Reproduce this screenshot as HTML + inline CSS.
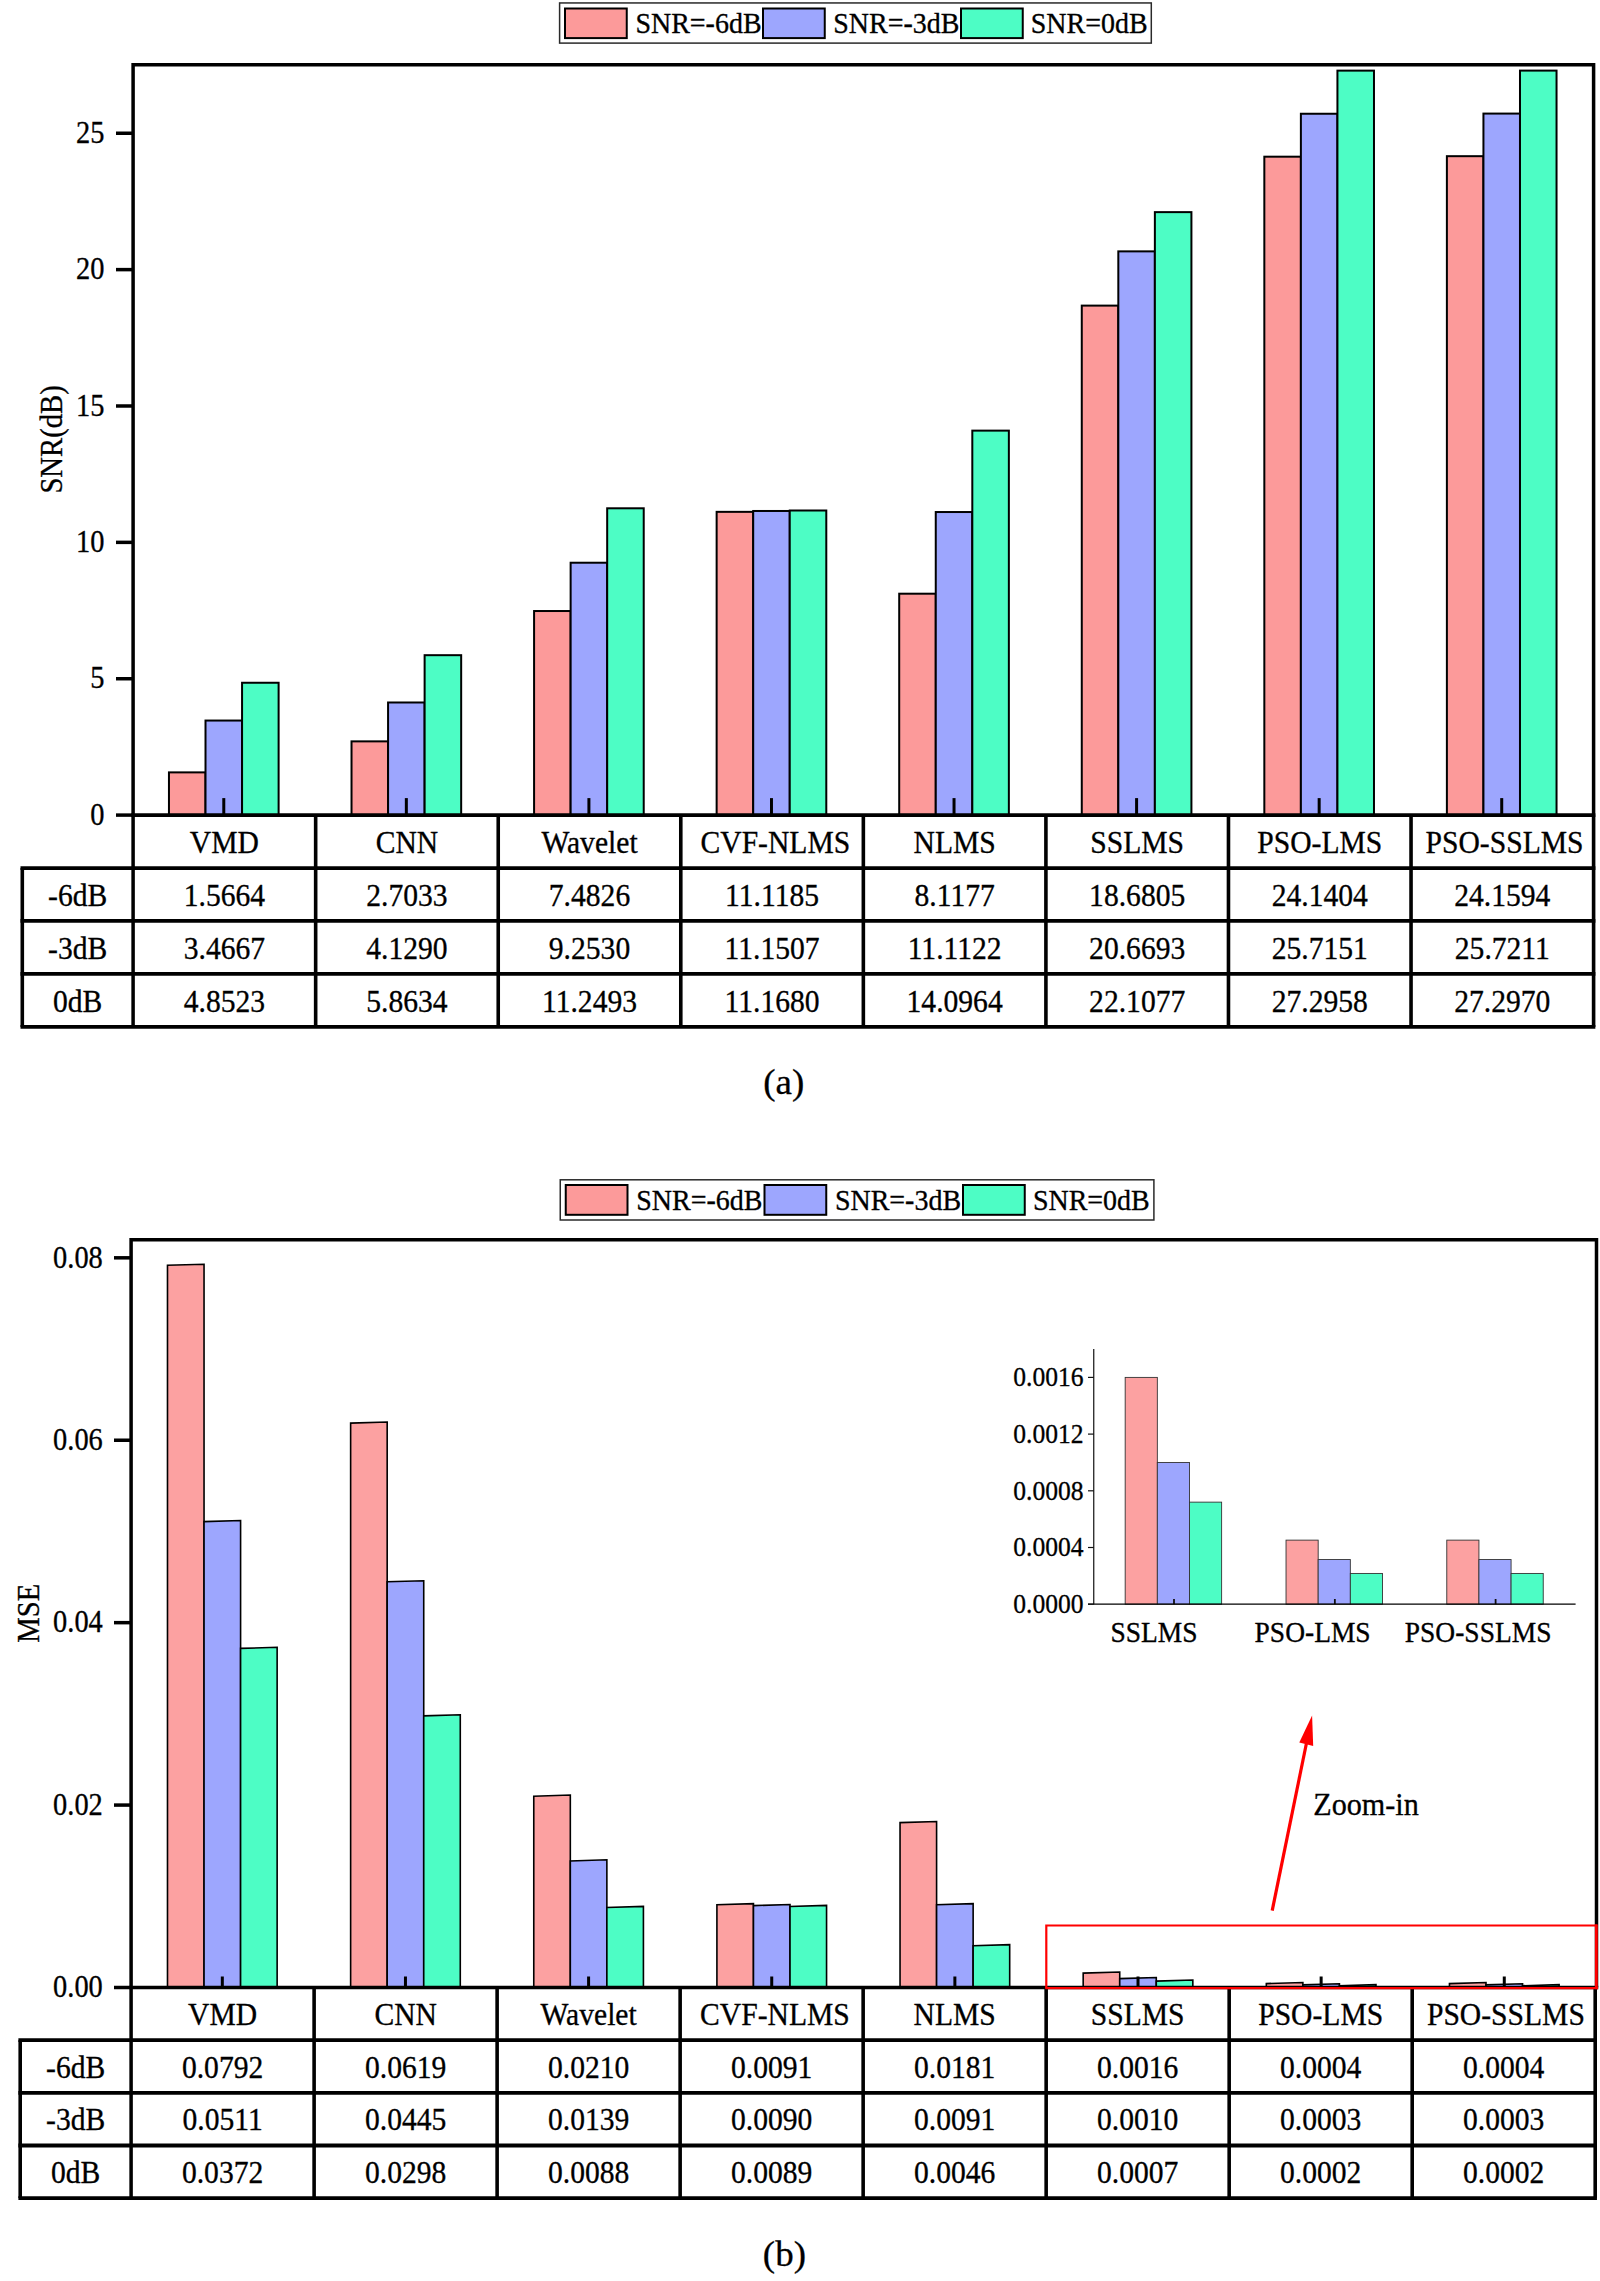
<!DOCTYPE html>
<html lang="en"><head><meta charset="utf-8"><title>SNR and MSE comparison</title>
<style>html,body{margin:0;padding:0;background:#fff}svg{display:block}text{font-family:'Liberation Serif', 'Times New Roman', serif;fill:#000;stroke:#000;stroke-width:0.3px}</style>
</head><body>
<svg width="1600" height="2281" viewBox="0 0 1600 2281">
<rect width="1600" height="2281" fill="#fff"/>
<g id="chart-a">
<rect x="559.6" y="2.95" width="591.7" height="40.15" fill="#fff" stroke="#2a2a2a" stroke-width="1.5"/>
<rect x="565" y="8.5" width="61.75" height="29.6" fill="#FC9A9A" stroke="#000" stroke-width="2"/>
<rect x="763" y="8.5" width="61.75" height="29.6" fill="#9DA6FE" stroke="#000" stroke-width="2"/>
<rect x="961" y="8.5" width="61.75" height="29.6" fill="#4DFDC5" stroke="#000" stroke-width="2"/>
<text transform="translate(635.4 33.09) scale(1 1.075)" font-size="28.0" text-anchor="start">SNR=-6dB</text>
<text transform="translate(833.2 33.09) scale(1 1.075)" font-size="28.0" text-anchor="start">SNR=-3dB</text>
<text transform="translate(1030.8 33.09) scale(1 1.075)" font-size="28.0" text-anchor="start">SNR=0dB</text>
<rect x="168.96" y="772.38" width="36.55" height="42.72" fill="#FC9A9A" stroke="#000" stroke-width="2.0"/>
<rect x="205.51" y="720.55" width="36.55" height="94.55" fill="#9DA6FE" stroke="#000" stroke-width="2.0"/>
<rect x="242.06" y="682.76" width="36.55" height="132.34" fill="#4DFDC5" stroke="#000" stroke-width="2.0"/>
<rect x="351.52" y="741.37" width="36.55" height="73.73" fill="#FC9A9A" stroke="#000" stroke-width="2.0"/>
<rect x="388.07" y="702.49" width="36.55" height="112.61" fill="#9DA6FE" stroke="#000" stroke-width="2.0"/>
<rect x="424.62" y="655.18" width="36.55" height="159.92" fill="#4DFDC5" stroke="#000" stroke-width="2.0"/>
<rect x="534.08" y="611.02" width="36.55" height="204.08" fill="#FC9A9A" stroke="#000" stroke-width="2.0"/>
<rect x="570.63" y="562.73" width="36.55" height="252.37" fill="#9DA6FE" stroke="#000" stroke-width="2.0"/>
<rect x="607.18" y="508.29" width="36.55" height="306.81" fill="#4DFDC5" stroke="#000" stroke-width="2.0"/>
<rect x="716.64" y="511.85" width="36.55" height="303.25" fill="#FC9A9A" stroke="#000" stroke-width="2.0"/>
<rect x="753.19" y="510.98" width="36.55" height="304.12" fill="#9DA6FE" stroke="#000" stroke-width="2.0"/>
<rect x="789.74" y="510.5" width="36.55" height="304.6" fill="#4DFDC5" stroke="#000" stroke-width="2.0"/>
<rect x="899.21" y="593.7" width="36.55" height="221.4" fill="#FC9A9A" stroke="#000" stroke-width="2.0"/>
<rect x="935.76" y="512.03" width="36.55" height="303.07" fill="#9DA6FE" stroke="#000" stroke-width="2.0"/>
<rect x="972.31" y="430.63" width="36.55" height="384.47" fill="#4DFDC5" stroke="#000" stroke-width="2.0"/>
<rect x="1081.77" y="305.61" width="36.55" height="509.49" fill="#FC9A9A" stroke="#000" stroke-width="2.0"/>
<rect x="1118.32" y="251.37" width="36.55" height="563.73" fill="#9DA6FE" stroke="#000" stroke-width="2.0"/>
<rect x="1154.87" y="212.13" width="36.55" height="602.97" fill="#4DFDC5" stroke="#000" stroke-width="2.0"/>
<rect x="1264.33" y="156.69" width="36.55" height="658.41" fill="#FC9A9A" stroke="#000" stroke-width="2.0"/>
<rect x="1300.88" y="113.75" width="36.55" height="701.35" fill="#9DA6FE" stroke="#000" stroke-width="2.0"/>
<rect x="1337.43" y="70.63" width="36.55" height="744.47" fill="#4DFDC5" stroke="#000" stroke-width="2.0"/>
<rect x="1446.89" y="156.18" width="36.55" height="658.92" fill="#FC9A9A" stroke="#000" stroke-width="2.0"/>
<rect x="1483.44" y="113.58" width="36.55" height="701.52" fill="#9DA6FE" stroke="#000" stroke-width="2.0"/>
<rect x="1519.99" y="70.6" width="36.55" height="744.5" fill="#4DFDC5" stroke="#000" stroke-width="2.0"/>
<line x1="223.78" y1="798.1" x2="223.78" y2="815.1" stroke="#000" stroke-width="3"/>
<line x1="406.34" y1="798.1" x2="406.34" y2="815.1" stroke="#000" stroke-width="3"/>
<line x1="588.91" y1="798.1" x2="588.91" y2="815.1" stroke="#000" stroke-width="3"/>
<line x1="771.47" y1="798.1" x2="771.47" y2="815.1" stroke="#000" stroke-width="3"/>
<line x1="954.03" y1="798.1" x2="954.03" y2="815.1" stroke="#000" stroke-width="3"/>
<line x1="1136.59" y1="798.1" x2="1136.59" y2="815.1" stroke="#000" stroke-width="3"/>
<line x1="1319.16" y1="798.1" x2="1319.16" y2="815.1" stroke="#000" stroke-width="3"/>
<line x1="1501.72" y1="798.1" x2="1501.72" y2="815.1" stroke="#000" stroke-width="3"/>
<path d="M133.1 1026.9 V64.8 H1593.6 V815.1" fill="none" stroke="#000" stroke-width="3.5" stroke-linejoin="miter"/>
<line x1="1593.6" y1="815.1" x2="1593.6" y2="1026.9" stroke="#000" stroke-width="3.6"/>
<line x1="131.35" y1="815.1" x2="1595.35" y2="815.1" stroke="#000" stroke-width="3.6"/>
<line x1="20.5" y1="868.1" x2="1595.35" y2="868.1" stroke="#000" stroke-width="3.8"/>
<line x1="20.5" y1="920.8" x2="1595.35" y2="920.8" stroke="#000" stroke-width="3.8"/>
<line x1="20.5" y1="973.8" x2="1595.35" y2="973.8" stroke="#000" stroke-width="3.8"/>
<line x1="20.5" y1="1026.9" x2="1595.35" y2="1026.9" stroke="#000" stroke-width="3.8"/>
<line x1="22.3" y1="868.1" x2="22.3" y2="1026.9" stroke="#000" stroke-width="3.6"/>
<line x1="315.66" y1="815.1" x2="315.66" y2="1026.9" stroke="#000" stroke-width="3.6"/>
<line x1="498.23" y1="815.1" x2="498.23" y2="1026.9" stroke="#000" stroke-width="3.6"/>
<line x1="680.79" y1="815.1" x2="680.79" y2="1026.9" stroke="#000" stroke-width="3.6"/>
<line x1="863.35" y1="815.1" x2="863.35" y2="1026.9" stroke="#000" stroke-width="3.6"/>
<line x1="1045.91" y1="815.1" x2="1045.91" y2="1026.9" stroke="#000" stroke-width="3.6"/>
<line x1="1228.47" y1="815.1" x2="1228.47" y2="1026.9" stroke="#000" stroke-width="3.6"/>
<line x1="1411.04" y1="815.1" x2="1411.04" y2="1026.9" stroke="#000" stroke-width="3.6"/>
<line x1="116" y1="815.1" x2="133.1" y2="815.1" stroke="#000" stroke-width="3.5"/>
<text transform="translate(104.4 824.8) scale(1 1.075)" font-size="28.4" text-anchor="end">0</text>
<line x1="116" y1="678.73" x2="133.1" y2="678.73" stroke="#000" stroke-width="3.5"/>
<text transform="translate(104.4 688.43) scale(1 1.075)" font-size="28.4" text-anchor="end">5</text>
<line x1="116" y1="542.36" x2="133.1" y2="542.36" stroke="#000" stroke-width="3.5"/>
<text transform="translate(104.4 552.06) scale(1 1.075)" font-size="28.4" text-anchor="end">10</text>
<line x1="116" y1="405.99" x2="133.1" y2="405.99" stroke="#000" stroke-width="3.5"/>
<text transform="translate(104.4 415.69) scale(1 1.075)" font-size="28.4" text-anchor="end">15</text>
<line x1="116" y1="269.62" x2="133.1" y2="269.62" stroke="#000" stroke-width="3.5"/>
<text transform="translate(104.4 279.32) scale(1 1.075)" font-size="28.4" text-anchor="end">20</text>
<line x1="116" y1="133.25" x2="133.1" y2="133.25" stroke="#000" stroke-width="3.5"/>
<text transform="translate(104.4 142.95) scale(1 1.075)" font-size="28.4" text-anchor="end">25</text>
<text transform="translate(224.38 852.53) scale(1 1.075)" font-size="29.6" text-anchor="middle">VMD</text>
<text transform="translate(224.38 905.98) scale(1 1.075)" font-size="29.6" text-anchor="middle">1.5664</text>
<text transform="translate(224.38 958.83) scale(1 1.075)" font-size="29.6" text-anchor="middle">3.4667</text>
<text transform="translate(224.38 1011.88) scale(1 1.075)" font-size="29.6" text-anchor="middle">4.8523</text>
<text transform="translate(406.94 852.53) scale(1 1.075)" font-size="29.6" text-anchor="middle">CNN</text>
<text transform="translate(406.94 905.98) scale(1 1.075)" font-size="29.6" text-anchor="middle">2.7033</text>
<text transform="translate(406.94 958.83) scale(1 1.075)" font-size="29.6" text-anchor="middle">4.1290</text>
<text transform="translate(406.94 1011.88) scale(1 1.075)" font-size="29.6" text-anchor="middle">5.8634</text>
<text transform="translate(589.51 852.53) scale(1 1.075)" font-size="29.6" text-anchor="middle">Wavelet</text>
<text transform="translate(589.51 905.98) scale(1 1.075)" font-size="29.6" text-anchor="middle">7.4826</text>
<text transform="translate(589.51 958.83) scale(1 1.075)" font-size="29.6" text-anchor="middle">9.2530</text>
<text transform="translate(589.51 1011.88) scale(1 1.075)" font-size="29.6" text-anchor="middle">11.2493</text>
<text transform="translate(775.37 852.53) scale(1 1.075)" font-size="29.6" text-anchor="middle">CVF-NLMS</text>
<text transform="translate(772.07 905.98) scale(1 1.075)" font-size="29.6" text-anchor="middle">11.1185</text>
<text transform="translate(772.07 958.83) scale(1 1.075)" font-size="29.6" text-anchor="middle">11.1507</text>
<text transform="translate(772.07 1011.88) scale(1 1.075)" font-size="29.6" text-anchor="middle">11.1680</text>
<text transform="translate(954.63 852.53) scale(1 1.075)" font-size="29.6" text-anchor="middle">NLMS</text>
<text transform="translate(954.63 905.98) scale(1 1.075)" font-size="29.6" text-anchor="middle">8.1177</text>
<text transform="translate(954.63 958.83) scale(1 1.075)" font-size="29.6" text-anchor="middle">11.1122</text>
<text transform="translate(954.63 1011.88) scale(1 1.075)" font-size="29.6" text-anchor="middle">14.0964</text>
<text transform="translate(1137.19 852.53) scale(1 1.075)" font-size="29.6" text-anchor="middle">SSLMS</text>
<text transform="translate(1137.19 905.98) scale(1 1.075)" font-size="29.6" text-anchor="middle">18.6805</text>
<text transform="translate(1137.19 958.83) scale(1 1.075)" font-size="29.6" text-anchor="middle">20.6693</text>
<text transform="translate(1137.19 1011.88) scale(1 1.075)" font-size="29.6" text-anchor="middle">22.1077</text>
<text transform="translate(1319.76 852.53) scale(1 1.075)" font-size="29.6" text-anchor="middle">PSO-LMS</text>
<text transform="translate(1319.76 905.98) scale(1 1.075)" font-size="29.6" text-anchor="middle">24.1404</text>
<text transform="translate(1319.76 958.83) scale(1 1.075)" font-size="29.6" text-anchor="middle">25.7151</text>
<text transform="translate(1319.76 1011.88) scale(1 1.075)" font-size="29.6" text-anchor="middle">27.2958</text>
<text transform="translate(1504.52 852.53) scale(1 1.075)" font-size="29.6" text-anchor="middle">PSO-SSLMS</text>
<text transform="translate(1502.32 905.98) scale(1 1.075)" font-size="29.6" text-anchor="middle">24.1594</text>
<text transform="translate(1502.32 958.83) scale(1 1.075)" font-size="29.6" text-anchor="middle">25.7211</text>
<text transform="translate(1502.32 1011.88) scale(1 1.075)" font-size="29.6" text-anchor="middle">27.2970</text>
<text transform="translate(77.7 905.98) scale(1 1.075)" font-size="29.6" text-anchor="middle">-6dB</text>
<text transform="translate(77.7 958.83) scale(1 1.075)" font-size="29.6" text-anchor="middle">-3dB</text>
<text transform="translate(77.7 1011.88) scale(1 1.075)" font-size="29.6" text-anchor="middle">0dB</text>
<text transform="translate(61.7 439.4) rotate(-90) scale(1 1.075)" font-size="28.7" text-anchor="middle">SNR(dB)</text>
<text transform="translate(783.8 1094.2) scale(1 0.97)" font-size="37" text-anchor="middle">(a)</text>
</g>
<g id="chart-b">
<rect x="560.25" y="1179.8" width="593.65" height="40.2" fill="#fff" stroke="#2a2a2a" stroke-width="1.5"/>
<rect x="565.75" y="1185" width="61.75" height="29.8" fill="#FC9A9A" stroke="#000" stroke-width="2"/>
<rect x="764.5" y="1185" width="61.75" height="29.8" fill="#9DA6FE" stroke="#000" stroke-width="2"/>
<rect x="963" y="1185" width="61.75" height="29.8" fill="#4DFDC5" stroke="#000" stroke-width="2"/>
<text transform="translate(636.3 1209.89) scale(1 1.075)" font-size="28.0" text-anchor="start">SNR=-6dB</text>
<text transform="translate(834.9 1209.89) scale(1 1.075)" font-size="28.0" text-anchor="start">SNR=-3dB</text>
<text transform="translate(1032.9 1209.89) scale(1 1.075)" font-size="28.0" text-anchor="start">SNR=0dB</text>
<path d="M167.49 1987.5 V1265.32 L204.04 1264.22 V1987.5 Z" fill="#FCA1A1" stroke="#000" stroke-width="1.6" stroke-linejoin="miter"/>
<path d="M204.04 1987.5 V1521.62 L240.59 1520.52 V1987.5 Z" fill="#9DA6FE" stroke="#000" stroke-width="1.6" stroke-linejoin="miter"/>
<path d="M240.59 1987.5 V1648.4 L277.14 1647.3 V1987.5 Z" fill="#4DFDC5" stroke="#000" stroke-width="1.6" stroke-linejoin="miter"/>
<path d="M350.63 1987.5 V1423.11 L387.18 1422.01 V1987.5 Z" fill="#FCA1A1" stroke="#000" stroke-width="1.6" stroke-linejoin="miter"/>
<path d="M387.18 1987.5 V1581.82 L423.73 1580.72 V1987.5 Z" fill="#9DA6FE" stroke="#000" stroke-width="1.6" stroke-linejoin="miter"/>
<path d="M423.73 1987.5 V1715.89 L460.28 1714.79 V1987.5 Z" fill="#4DFDC5" stroke="#000" stroke-width="1.6" stroke-linejoin="miter"/>
<path d="M533.77 1987.5 V1796.16 L570.32 1795.06 V1987.5 Z" fill="#FCA1A1" stroke="#000" stroke-width="1.6" stroke-linejoin="miter"/>
<path d="M570.32 1987.5 V1860.92 L606.87 1859.82 V1987.5 Z" fill="#9DA6FE" stroke="#000" stroke-width="1.6" stroke-linejoin="miter"/>
<path d="M606.87 1987.5 V1907.44 L643.42 1906.34 V1987.5 Z" fill="#4DFDC5" stroke="#000" stroke-width="1.6" stroke-linejoin="miter"/>
<path d="M716.91 1987.5 V1904.7 L753.46 1903.6 V1987.5 Z" fill="#FCA1A1" stroke="#000" stroke-width="1.6" stroke-linejoin="miter"/>
<path d="M753.46 1987.5 V1905.61 L790.01 1904.51 V1987.5 Z" fill="#9DA6FE" stroke="#000" stroke-width="1.6" stroke-linejoin="miter"/>
<path d="M790.01 1987.5 V1906.52 L826.56 1905.42 V1987.5 Z" fill="#4DFDC5" stroke="#000" stroke-width="1.6" stroke-linejoin="miter"/>
<path d="M900.04 1987.5 V1822.61 L936.59 1821.51 V1987.5 Z" fill="#FCA1A1" stroke="#000" stroke-width="1.6" stroke-linejoin="miter"/>
<path d="M936.59 1987.5 V1904.7 L973.14 1903.6 V1987.5 Z" fill="#9DA6FE" stroke="#000" stroke-width="1.6" stroke-linejoin="miter"/>
<path d="M973.14 1987.5 V1945.74 L1009.69 1944.64 V1987.5 Z" fill="#4DFDC5" stroke="#000" stroke-width="1.6" stroke-linejoin="miter"/>
<path d="M1083.18 1987.5 V1973.11 L1119.73 1972.01 V1987.5 Z" fill="#FCA1A1" stroke="#000" stroke-width="1.6" stroke-linejoin="miter"/>
<path d="M1119.73 1987.5 V1978.58 L1156.28 1977.48 V1987.5 Z" fill="#9DA6FE" stroke="#000" stroke-width="1.6" stroke-linejoin="miter"/>
<path d="M1156.28 1987.5 V1981.13 L1192.83 1980.03 V1987.5 Z" fill="#4DFDC5" stroke="#000" stroke-width="1.6" stroke-linejoin="miter"/>
<path d="M1266.32 1987.5 V1983.58 L1302.87 1982.48 V1987.5 Z" fill="#FCA1A1" stroke="#000" stroke-width="1.6" stroke-linejoin="miter"/>
<path d="M1302.87 1987.5 V1984.83 L1339.42 1983.73 V1987.5 Z" fill="#9DA6FE" stroke="#000" stroke-width="1.6" stroke-linejoin="miter"/>
<path d="M1339.42 1987.5 V1985.72 L1375.97 1984.62 V1987.5 Z" fill="#4DFDC5" stroke="#000" stroke-width="1.6" stroke-linejoin="miter"/>
<path d="M1449.46 1987.5 V1983.58 L1486.01 1982.48 V1987.5 Z" fill="#FCA1A1" stroke="#000" stroke-width="1.6" stroke-linejoin="miter"/>
<path d="M1486.01 1987.5 V1984.83 L1522.56 1983.73 V1987.5 Z" fill="#9DA6FE" stroke="#000" stroke-width="1.6" stroke-linejoin="miter"/>
<path d="M1522.56 1987.5 V1985.72 L1559.11 1984.62 V1987.5 Z" fill="#4DFDC5" stroke="#000" stroke-width="1.6" stroke-linejoin="miter"/>
<line x1="222.32" y1="1976.5" x2="222.32" y2="1987.5" stroke="#000" stroke-width="3"/>
<line x1="405.46" y1="1976.5" x2="405.46" y2="1987.5" stroke="#000" stroke-width="3"/>
<line x1="588.59" y1="1976.5" x2="588.59" y2="1987.5" stroke="#000" stroke-width="3"/>
<line x1="771.73" y1="1976.5" x2="771.73" y2="1987.5" stroke="#000" stroke-width="3"/>
<line x1="954.87" y1="1976.5" x2="954.87" y2="1987.5" stroke="#000" stroke-width="3"/>
<line x1="1138.01" y1="1976.5" x2="1138.01" y2="1987.5" stroke="#000" stroke-width="3"/>
<line x1="1321.14" y1="1976.5" x2="1321.14" y2="1987.5" stroke="#000" stroke-width="3"/>
<line x1="1504.28" y1="1976.5" x2="1504.28" y2="1987.5" stroke="#000" stroke-width="3"/>
<path d="M131.1 2198.1 V1239.8 H1596.5 V1987.5" fill="none" stroke="#000" stroke-width="3.5" stroke-linejoin="miter"/>
<line x1="1595.2" y1="1987.5" x2="1595.2" y2="2198.1" stroke="#000" stroke-width="3.6"/>
<line x1="129.35" y1="1987.5" x2="1598.25" y2="1987.5" stroke="#000" stroke-width="3.6"/>
<line x1="18.4" y1="2040.2" x2="1596.95" y2="2040.2" stroke="#000" stroke-width="3.8"/>
<line x1="18.4" y1="2092.9" x2="1596.95" y2="2092.9" stroke="#000" stroke-width="3.8"/>
<line x1="18.4" y1="2145.5" x2="1596.95" y2="2145.5" stroke="#000" stroke-width="3.8"/>
<line x1="18.4" y1="2198.1" x2="1596.95" y2="2198.1" stroke="#000" stroke-width="3.8"/>
<line x1="20.2" y1="2040.2" x2="20.2" y2="2198.1" stroke="#000" stroke-width="3.6"/>
<line x1="314.11" y1="1987.5" x2="314.11" y2="2198.1" stroke="#000" stroke-width="3.6"/>
<line x1="497.12" y1="1987.5" x2="497.12" y2="2198.1" stroke="#000" stroke-width="3.6"/>
<line x1="680.14" y1="1987.5" x2="680.14" y2="2198.1" stroke="#000" stroke-width="3.6"/>
<line x1="863.15" y1="1987.5" x2="863.15" y2="2198.1" stroke="#000" stroke-width="3.6"/>
<line x1="1046.16" y1="1987.5" x2="1046.16" y2="2198.1" stroke="#000" stroke-width="3.6"/>
<line x1="1229.17" y1="1987.5" x2="1229.17" y2="2198.1" stroke="#000" stroke-width="3.6"/>
<line x1="1412.19" y1="1987.5" x2="1412.19" y2="2198.1" stroke="#000" stroke-width="3.6"/>
<line x1="114" y1="1987.5" x2="131.1" y2="1987.5" stroke="#000" stroke-width="3.5"/>
<text transform="translate(102.8 1997.2) scale(1 1.075)" font-size="28.4" text-anchor="end">0.00</text>
<line x1="114" y1="1805.08" x2="131.1" y2="1805.08" stroke="#000" stroke-width="3.5"/>
<text transform="translate(102.8 1814.78) scale(1 1.075)" font-size="28.4" text-anchor="end">0.02</text>
<line x1="114" y1="1622.66" x2="131.1" y2="1622.66" stroke="#000" stroke-width="3.5"/>
<text transform="translate(102.8 1632.36) scale(1 1.075)" font-size="28.4" text-anchor="end">0.04</text>
<line x1="114" y1="1440.24" x2="131.1" y2="1440.24" stroke="#000" stroke-width="3.5"/>
<text transform="translate(102.8 1449.94) scale(1 1.075)" font-size="28.4" text-anchor="end">0.06</text>
<line x1="114" y1="1257.82" x2="131.1" y2="1257.82" stroke="#000" stroke-width="3.5"/>
<text transform="translate(102.8 1267.52) scale(1 1.075)" font-size="28.4" text-anchor="end">0.08</text>
<text transform="translate(222.61 2024.78) scale(1 1.075)" font-size="29.6" text-anchor="middle">VMD</text>
<text transform="translate(222.61 2077.68) scale(1 1.075)" font-size="29.6" text-anchor="middle">0.0792</text>
<text transform="translate(222.61 2130.33) scale(1 1.075)" font-size="29.6" text-anchor="middle">0.0511</text>
<text transform="translate(222.61 2182.93) scale(1 1.075)" font-size="29.6" text-anchor="middle">0.0372</text>
<text transform="translate(405.62 2024.78) scale(1 1.075)" font-size="29.6" text-anchor="middle">CNN</text>
<text transform="translate(405.62 2077.68) scale(1 1.075)" font-size="29.6" text-anchor="middle">0.0619</text>
<text transform="translate(405.62 2130.33) scale(1 1.075)" font-size="29.6" text-anchor="middle">0.0445</text>
<text transform="translate(405.62 2182.93) scale(1 1.075)" font-size="29.6" text-anchor="middle">0.0298</text>
<text transform="translate(588.63 2024.78) scale(1 1.075)" font-size="29.6" text-anchor="middle">Wavelet</text>
<text transform="translate(588.63 2077.68) scale(1 1.075)" font-size="29.6" text-anchor="middle">0.0210</text>
<text transform="translate(588.63 2130.33) scale(1 1.075)" font-size="29.6" text-anchor="middle">0.0139</text>
<text transform="translate(588.63 2182.93) scale(1 1.075)" font-size="29.6" text-anchor="middle">0.0088</text>
<text transform="translate(774.94 2024.78) scale(1 1.075)" font-size="29.6" text-anchor="middle">CVF-NLMS</text>
<text transform="translate(771.64 2077.68) scale(1 1.075)" font-size="29.6" text-anchor="middle">0.0091</text>
<text transform="translate(771.64 2130.33) scale(1 1.075)" font-size="29.6" text-anchor="middle">0.0090</text>
<text transform="translate(771.64 2182.93) scale(1 1.075)" font-size="29.6" text-anchor="middle">0.0089</text>
<text transform="translate(954.66 2024.78) scale(1 1.075)" font-size="29.6" text-anchor="middle">NLMS</text>
<text transform="translate(954.66 2077.68) scale(1 1.075)" font-size="29.6" text-anchor="middle">0.0181</text>
<text transform="translate(954.66 2130.33) scale(1 1.075)" font-size="29.6" text-anchor="middle">0.0091</text>
<text transform="translate(954.66 2182.93) scale(1 1.075)" font-size="29.6" text-anchor="middle">0.0046</text>
<text transform="translate(1137.67 2024.78) scale(1 1.075)" font-size="29.6" text-anchor="middle">SSLMS</text>
<text transform="translate(1137.67 2077.68) scale(1 1.075)" font-size="29.6" text-anchor="middle">0.0016</text>
<text transform="translate(1137.67 2130.33) scale(1 1.075)" font-size="29.6" text-anchor="middle">0.0010</text>
<text transform="translate(1137.67 2182.93) scale(1 1.075)" font-size="29.6" text-anchor="middle">0.0007</text>
<text transform="translate(1320.68 2024.78) scale(1 1.075)" font-size="29.6" text-anchor="middle">PSO-LMS</text>
<text transform="translate(1320.68 2077.68) scale(1 1.075)" font-size="29.6" text-anchor="middle">0.0004</text>
<text transform="translate(1320.68 2130.33) scale(1 1.075)" font-size="29.6" text-anchor="middle">0.0003</text>
<text transform="translate(1320.68 2182.93) scale(1 1.075)" font-size="29.6" text-anchor="middle">0.0002</text>
<text transform="translate(1505.89 2024.78) scale(1 1.075)" font-size="29.6" text-anchor="middle">PSO-SSLMS</text>
<text transform="translate(1503.69 2077.68) scale(1 1.075)" font-size="29.6" text-anchor="middle">0.0004</text>
<text transform="translate(1503.69 2130.33) scale(1 1.075)" font-size="29.6" text-anchor="middle">0.0003</text>
<text transform="translate(1503.69 2182.93) scale(1 1.075)" font-size="29.6" text-anchor="middle">0.0002</text>
<text transform="translate(75.65 2077.68) scale(1 1.075)" font-size="29.6" text-anchor="middle">-6dB</text>
<text transform="translate(75.65 2130.33) scale(1 1.075)" font-size="29.6" text-anchor="middle">-3dB</text>
<text transform="translate(75.65 2182.93) scale(1 1.075)" font-size="29.6" text-anchor="middle">0dB</text>
<text transform="translate(38.7 1613.2) rotate(-90) scale(1 1.075)" font-size="28.7" text-anchor="middle">MSE</text>
<path d="M1046.3 1988 V1925.5 H1597" fill="none" stroke="#FF0000" stroke-width="2.2"/>
<line x1="1596.35" y1="1924.4" x2="1596.35" y2="1989.1" stroke="#FF0000" stroke-width="2.9"/>
<line x1="1045.2" y1="1988.05" x2="1597.9" y2="1988.05" stroke="#FF0000" stroke-width="2.2"/>
<line x1="1272.2" y1="1910.6" x2="1306.7" y2="1742" stroke="#FF0000" stroke-width="3.2"/>
<polygon points="1312.1,1715.6 1299.3,1742.6 1313.2,1746.0" fill="#FF0000"/>
<text transform="translate(1313.2 1814.75) scale(1 1.075)" font-size="30.2" text-anchor="start">Zoom-in</text>
<rect x="1125.18" y="1377.4" width="32.15" height="226.8" fill="#FCA1A1" stroke="#333" stroke-width="0.9"/>
<rect x="1157.33" y="1462.45" width="32.15" height="141.75" fill="#9DA6FE" stroke="#333" stroke-width="0.9"/>
<rect x="1189.48" y="1502.14" width="32.15" height="102.06" fill="#4DFDC5" stroke="#333" stroke-width="0.9"/>
<line x1="1174" y1="1599" x2="1174" y2="1604.2" stroke="#111" stroke-width="1.8"/>
<rect x="1286.03" y="1540.13" width="32.15" height="64.07" fill="#FCA1A1" stroke="#333" stroke-width="0.9"/>
<rect x="1318.18" y="1559.55" width="32.15" height="44.65" fill="#9DA6FE" stroke="#333" stroke-width="0.9"/>
<rect x="1350.33" y="1573.44" width="32.15" height="30.76" fill="#4DFDC5" stroke="#333" stroke-width="0.9"/>
<line x1="1334.85" y1="1599" x2="1334.85" y2="1604.2" stroke="#111" stroke-width="1.8"/>
<rect x="1446.78" y="1540.13" width="32.15" height="64.07" fill="#FCA1A1" stroke="#333" stroke-width="0.9"/>
<rect x="1478.93" y="1559.55" width="32.15" height="44.65" fill="#9DA6FE" stroke="#333" stroke-width="0.9"/>
<rect x="1511.08" y="1573.44" width="32.15" height="30.76" fill="#4DFDC5" stroke="#333" stroke-width="0.9"/>
<line x1="1495.6" y1="1599" x2="1495.6" y2="1604.2" stroke="#111" stroke-width="1.8"/>
<path d="M1093.75 1349.1 V1604.2" fill="none" stroke="#111" stroke-width="1.2"/>
<line x1="1088" y1="1604.2" x2="1575.6" y2="1604.2" stroke="#000" stroke-width="1.2"/>
<line x1="1088" y1="1604.2" x2="1093.75" y2="1604.2" stroke="#111" stroke-width="1.2"/>
<text transform="translate(1083.6 1613.03) scale(1 1.075)" font-size="25.6" text-anchor="end">0.0000</text>
<line x1="1088" y1="1547.5" x2="1093.75" y2="1547.5" stroke="#111" stroke-width="1.2"/>
<text transform="translate(1083.6 1556.33) scale(1 1.075)" font-size="25.6" text-anchor="end">0.0004</text>
<line x1="1088" y1="1490.8" x2="1093.75" y2="1490.8" stroke="#111" stroke-width="1.2"/>
<text transform="translate(1083.6 1499.63) scale(1 1.075)" font-size="25.6" text-anchor="end">0.0008</text>
<line x1="1088" y1="1434.1" x2="1093.75" y2="1434.1" stroke="#111" stroke-width="1.2"/>
<text transform="translate(1083.6 1442.93) scale(1 1.075)" font-size="25.6" text-anchor="end">0.0012</text>
<line x1="1088" y1="1377.4" x2="1093.75" y2="1377.4" stroke="#111" stroke-width="1.2"/>
<text transform="translate(1083.6 1386.23) scale(1 1.075)" font-size="25.6" text-anchor="end">0.0016</text>
<text transform="translate(1154 1642.48) scale(1 1.075)" font-size="27.5" text-anchor="middle">SSLMS</text>
<text transform="translate(1312.6 1642.48) scale(1 1.075)" font-size="27.5" text-anchor="middle">PSO-LMS</text>
<text transform="translate(1478.1 1642.48) scale(1 1.075)" font-size="27.5" text-anchor="middle">PSO-SSLMS</text>
<text transform="translate(784.4 2265.7) scale(1 0.97)" font-size="37" text-anchor="middle">(b)</text>
</g>
</svg></body></html>
